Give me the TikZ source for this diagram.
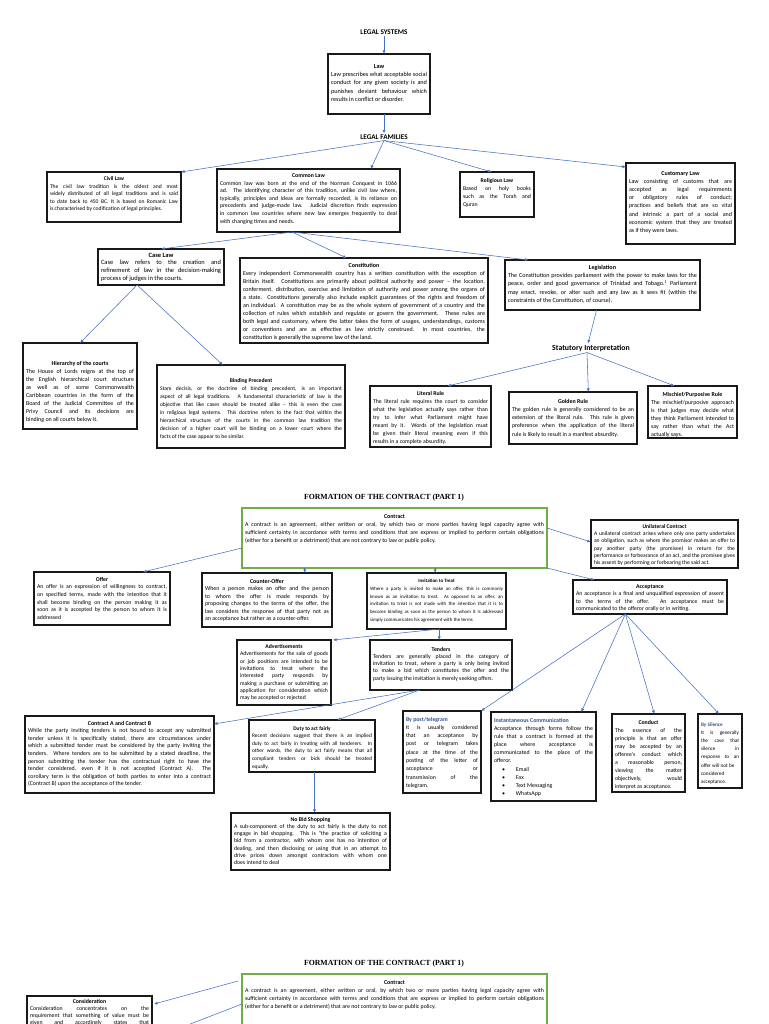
\documentclass[tikz,border=0pt]{standalone}
\usepackage{fontspec}
\setmainfont{Carlito}
\newfontfamily\ttlserif{Liberation Serif}
\usetikzlibrary{arrows.meta,calc}
\definecolor{abl}{RGB}{68,114,196}
\definecolor{gbox}{RGB}{112,173,71}
\definecolor{tbl}{RGB}{47,84,150}
\newcommand\Tl[1]{\hbox to\hsize{\hss\bfseries #1\hss}}
\newcommand\Bl[1]{\hbox{\color{tbl}\bfseries #1}}
\newcommand\Jl[1]{\hbox to\hsize{#1}}
\newcommand\El[1]{\hbox{#1}}
\newcommand\Bx[9]{\node[bx,anchor=north west] (#1) at (#2,#3) {\vbox to #5pt{\hsize=\dimexpr#4pt-6pt\relax\fontsize{#6}{#7}\selectfont\hbox{}\vskip\dimexpr#8pt-#7pt\relax#9\vfil}};}
\tikzset{
  bx/.style={draw=black!90, line width=1.1pt, fill=white, inner xsep=3pt, inner ysep=0pt, outer sep=0pt},
  ar/.style={draw=abl, line width=0.55pt, -{Latex[length=3.6pt,width=3pt]}},
  hd/.style={font=\fontsize{7.2}{8}\selectfont\bfseries, inner sep=1pt},
  fhd/.style={font=\ttlserif\fontsize{7.8}{9}\selectfont\bfseries, inner sep=1pt}
}
\begin{document}
\begin{tikzpicture}[x=1pt,y=-1pt]
\useasboundingbox (0,0) rectangle (768,1024);
\clip (0,0) rectangle (768,1024);
\fill[white] (0,0) rectangle (768,1024);

% ---------------- LEGAL SYSTEMS ----------------
\node[hd] (ls) at (384,32) {LEGAL SYSTEMS};
\Bx{law}{328}{54}{102}{60}{6.2}{8.2}{14.5}{\Tl{Law}\Jl{Law prescribes what acceptable social}\Jl{conduct for any given society is and}\Jl{punishes deviant behaviour which}\El{results in conflict or disorder.}}
\node[hd] (lf) at (384,137) {LEGAL FAMILIES};

\Bx{civil}{47}{172}{134}{50}{5.6}{7.4}{9}{\Tl{Civil Law}\Jl{The civil law tradition is the oldest and most}\Jl{widely distributed of all legal traditions and is said}\Jl{to date back to 450 BC. It is based on Romanic Law}\El{is characterised by codification of legal principles.}}
\Bx{common}{217}{169}{183}{63}{5.8}{7.5}{9}{\Tl{Common Law}\Jl{Common law was born at the end of the Norman Conquest in 1066}\Jl{ad. The identifying character of this tradition, unlike civil law where,}\Jl{typically, principles and ideas are formally recorded, is its reliance on}\Jl{precedents and judge-made law. Judicial discretion finds expression}\Jl{in common law countries where new law emerges frequently to deal}\El{with changing times and needs.}}
\Bx{relig}{460}{172}{74}{45}{5.8}{8}{11}{\Tl{Religious Law}\Jl{Based on holy books}\Jl{such as the Torah and}\El{Quran}}
\Bx{custom}{626}{163}{109}{81}{6.0}{8.2}{12}{\Tl{Customary Law}\Jl{Law consisting of customs that are}\Jl{accepted as legal requirements}\Jl{or obligatory rules of conduct;}\Jl{practices and beliefs that are so vital}\Jl{and intrinsic a part of a social and}\Jl{economic system that they are treated}\El{as if they were laws.}}

\Bx{caselaw}{98}{249}{126}{36}{6.5}{7.8}{8}{\Tl{Case Law}\Jl{Case law refers to the creation and}\Jl{refinement of law in the decision-making}\El{process of judges in the courts.}}
\Bx{const}{240}{258}{248}{85}{6.0}{8}{9}{\Tl{Constitution}\Jl{Every independent Commonwealth country has a written constitution with the exception of}\Jl{Britain itself. Constitutions are primarily about political authority and power -- the location,}\Jl{conferment, distribution, exercise and limitation of authority and power among the organs of}\Jl{a state.\ \ Constitutions generally also include explicit guarantees of the rights and freedom of}\Jl{an individual.\ \ A constitution may be as the whole system of government of a country and the}\Jl{collection of rules which establish and regulate or govern the government. These rules are}\Jl{both legal and customary, where the latter takes the form of usages, understandings, customs}\Jl{or conventions and are as effective as law strictly construed.\ \ In most countries, the}\El{constitution is generally the supreme law of the land.}}
\Bx{legis}{505}{260}{195}{50}{6.1}{8.4}{9}{\Tl{Legislation}\Jl{The Constitution provides parliament with the power to make laws for the}\Jl{peace, order and good governance of Trinidad and Tobago.\textsuperscript{1} Parliament}\Jl{may enact, revoke, or alter such and any law as it sees fit (within the}\El{constraints of the Constitution, of course).}}

\Bx{hier}{23}{343}{114}{86}{6.0}{8}{22}{\Tl{Hierarchy of the courts}\Jl{The House of Lords reigns at the top of}\Jl{the English hierarchical court structure}\Jl{as well as of some Commonwealth}\Jl{Caribbean countries in the form of the}\Jl{Board of the Judicial Committee of the}\Jl{Privy Council and its decisions are}\El{binding on all courts below it.}}
\Bx{bind}{157}{365}{188}{83}{5.6}{8}{17}{\Tl{Binding Precedent}\Jl{Stare decisis, or the doctrine of binding precedent, is an important}\Jl{aspect of all legal traditions. A fundamental characteristic of law is the}\Jl{objective that like cases should be treated alike -- this is even the case}\Jl{in religious legal systems. This doctrine refers to the fact that within the}\Jl{hierarchical structure of the courts in the common law tradition the}\Jl{decision of a higher court will be binding on a lower court where the}\El{facts of the case appear to be similar.}}

\node[font=\fontsize{7.8}{9}\selectfont\bfseries, inner sep=1pt] (stat) at (591,348) {Statutory Interpretation};
\Bx{lit}{370}{386}{121}{61}{5.8}{8.1}{9}{\Tl{Literal Rule}\Jl{The literal rule requires the court to consider}\Jl{what the legislation actually says rather than}\Jl{try to infer what Parliament might have}\Jl{meant by it.\ \ Words of the legislation must}\Jl{be given their literal meaning even if this}\El{results in a complete absurdity.}}
\Bx{gold}{509}{392}{128}{52}{5.9}{8.3}{11}{\Tl{Golden Rule}\Jl{The golden rule is generally considered to be an}\Jl{extension of the literal rule. This rule is given}\Jl{preference when the application of the literal}\El{rule is likely to result in a manifest absurdity.}}
\Bx{misch}{648}{386}{89}{52}{5.9}{8}{10}{\Tl{Mischief/Purposive Rule}\Jl{The mischief/purposive approach}\Jl{is that judges may decide what}\Jl{they think Parliament intended to}\Jl{say rather than what the Act}\El{actually says.}}

% connectors section 1
\draw[ar] (ls.south) -- (ls.south |- law.north);
\draw[ar] (lf.north |- law.south) -- (lf.north);
\coordinate (lfh) at (lf.south);
\draw[ar] (lfh) -- (civil.north east);
\draw[ar] (lfh) -- ($(common.north west)!0.84!(common.north east)$);
\draw[ar] (lfh) -- ($(relig.north west)!0.43!(relig.north east)$);
\draw[ar] (lfh) -- ($(custom.north west)+(0,4)$);
\coordinate (cmh) at ($(common.south west)!0.41!(common.south east)$);
\draw[ar] (cmh) -- (caselaw.north);
\draw[ar] (cmh) -- ($(const.north west)!0.43!(const.north east)$);
\draw[ar] (cmh) -- ($(legis.north west)!0.12!(legis.north east)$);
\coordinate (clh) at ($(caselaw.south west)!0.31!(caselaw.south east)$);
\draw[ar] (clh) -- (hier.north);
\draw[ar] (clh) -- ($(bind.north west)!0.35!(bind.north east)$);
\draw[ar] ($(legis.south west)!0.47!(legis.south east)$) -- ($(stat.north)+(-3,0)$);
\coordinate (sth) at ($(stat.south)+(-4,0)$);
\draw[ar] (sth) -- ($(lit.north west)!0.64!(lit.north east)$);
\draw[ar] (sth) -- ($(gold.north west)!0.62!(gold.north east)$);
\draw[ar] (sth) -- ($(misch.north west)!0.3!(misch.north east)$);

% ---------------- FORMATION (PART 1) ----------------
\node[fhd] (f1) at (384,498) {FORMATION OF THE CONTRACT (PART 1)};
\begin{scope}[bx/.append style={draw=gbox}]
\Bx{contract}{242}{508}{305}{60}{5.9}{8}{10}{\Tl{Contract}\Jl{A contract is an agreement, either written or oral, by which two or more parties having legal capacity agree with}\Jl{sufficient certainty in accordance with terms and conditions that are express or implied to perform certain obligations}\El{(either for a benefit or a detriment) that are not contrary to law or public policy.}}
\end{scope}
\Bx{unil}{591}{520}{147}{48}{5.6}{7.2}{8.5}{\Tl{Unilateral Contract}\Jl{A unilateral contract arises where only one party undertakes}\Jl{an obligation, such as where the promisor makes an offer to}\Jl{pay another party (the promisee) in return for the}\Jl{performance or forbearance of an act, and the promisee gives}\El{his assent by performing or forbearing the said act.}}
\Bx{offer}{34}{572}{136}{53}{5.8}{7.7}{9}{\Tl{Offer}\Jl{An offer is an expression of willingness to contract,}\Jl{on specified terms, made with the intention that it}\Jl{shall become binding on the person making it as}\Jl{soon as it is accepted by the person to whom it is}\El{addressed}}
\Bx{counter}{202}{573}{130}{54}{5.9}{7.5}{10}{\Tl{Counter-Offer}\Jl{When a person makes an offer and the person}\Jl{to whom the offer is made responds by}\Jl{proposing changes to the terms of the offer, the}\Jl{law considers the response of that party not as}\El{an acceptance but rather as a counter-offer.}}
\Bx{invit}{367}{573}{139}{56}{4.9}{7.8}{9.5}{\Tl{Invitation to Treat}\Jl{Where a party is invited to make an offer, this is commonly}\Jl{known as an invitation to treat. As opposed to an offer, an}\Jl{invitation to treat is not made with the intention that it is to}\Jl{become binding as soon as the person to whom it is addressed}\El{simply communicates his agreement with the terms}}
\Bx{accept}{573}{580}{154}{34}{5.8}{7.4}{8.5}{\Tl{Acceptance}\Jl{An acceptance is a final and unqualified expression of assent}\Jl{to the terms of the offer. An acceptance must be}\El{communicated to the offeror orally or in writing.}}

\Bx{ads}{237}{640}{94}{65}{5.7}{7.3}{8.5}{\Tl{Advertisements}\Jl{Advertisements for the sale of goods}\Jl{or job positions are intended to be}\Jl{invitations to treat where the}\Jl{interested party responds by}\Jl{making a purchase or submitting an}\Jl{application for consideration which}\El{may be accepted or rejected}}
\Bx{tend}{370}{640}{142}{50}{5.8}{7.3}{11}{\Tl{Tenders}\Jl{Tenders are generally placed in the category of}\Jl{invitation to treat, where a party is only being invited}\Jl{to make a bid which constitutes the offer and the}\El{party issuing the invitation is merely seeking offers.}}

\Bx{cab}{25}{716}{189}{77}{5.9}{7.6}{9}{\Tl{Contract A and Contract B}\Jl{While the party inviting tenders is not bound to accept any submitted}\Jl{tender unless it is specifically stated, there are circumstances under}\Jl{which a submitted tender must be considered by the party inviting the}\Jl{tenders. Where tenders are to be submitted by a stated deadline, the}\Jl{person submitting the tender has the contractual right to have the}\Jl{tender considered, even if it is not accepted (Contract A).\ \ The}\Jl{corollary term is the obligation of both parties to enter into a contract}\El{(Contract B) upon the acceptance of the tender.}}
\Bx{duty}{249}{720}{126}{52}{5.4}{7.6}{10}{\Tl{Duty to act fairly}\Jl{Recent decisions suggest that there is an implied}\Jl{duty to act fairly in treating with all tenderers. In}\Jl{other words, the duty to act fairly means that all}\Jl{compliant tenders or bids should be treated}\El{equally.}}
\Bx{post}{403}{711}{78}{82}{5.8}{8.3}{10}{\Bl{By post/telegram}\Jl{It is usually considered}\Jl{that an acceptance by}\Jl{post or telegram takes}\Jl{place at the time of the}\Jl{posting of the letter of}\Jl{acceptance or}\Jl{transmission of the}\El{telegram.}}
\Bx{inst}{491}{712}{105}{89}{5.9}{8}{10}{\Bl{Instantaneous Communication}\Jl{Acceptance through forms follow the}\Jl{rule that a contract is formed at the}\Jl{place where acceptance is}\Jl{communicated to the place of the}\El{offeror.}\vskip1.5pt\El{\hspace*{8pt}\textbullet\hspace*{11pt}Email}\El{\hspace*{8pt}\textbullet\hspace*{11pt}Fax}\El{\hspace*{8pt}\textbullet\hspace*{11pt}Text Messaging}\El{\hspace*{8pt}\textbullet\hspace*{11pt}WhatsApp}}
\Bx{cond}{612}{714}{73}{78}{5.8}{8}{10}{\Tl{Conduct}\Jl{The essence of the}\Jl{principle is that an offer}\Jl{may be accepted by an}\Jl{offeree's conduct which}\Jl{a reasonable person,}\Jl{viewing the matter}\Jl{objectively, would}\El{interpret as acceptance.}}
\Bx{sil}{698}{714}{44}{74}{5.2}{8.2}{12}{\Bl{By Silence}\Jl{It is generally}\Jl{the case that}\Jl{silence in}\Jl{response to an}\El{offer will not be}\El{considered}\El{acceptance.}}
\Bx{nobid}{231}{813}{159}{57}{5.8}{7.3}{8}{\Tl{No Bid Shopping}\Jl{A sub-component of the duty to act fairly is the duty to not}\Jl{engage in bid shopping. This is ``the practice of soliciting a}\Jl{bid from a contractor, with whom one has no intention of}\Jl{dealing, and then disclosing or using that in an attempt to}\Jl{drive prices down amongst contractors with whom one}\El{does intend to deal}}

% connectors section 2
\draw[ar] ($(contract.north east)+(0,20)$) -- ($(unil.north west)+(0,22)$);
\draw[ar] (contract.south east) -- ($(accept.north west)!0.14!(accept.north east)$);
\draw[ar] ($(contract.north west)+(0,40)$) -- ($(offer.north west)!0.8!(offer.north east)$);
\coordinate (cA) at ($(counter.north west)!0.79!(counter.north east)$);
\draw[ar] (cA |- contract.south) -- (cA);
\coordinate (iA) at ($(invit.north west)!0.49!(invit.north east)$);
\draw[ar] (iA |- contract.south) -- (iA);
\coordinate (ivh) at ($(invit.south west)!0.52!(invit.south east)$);
\draw[ar] (ivh) -- ($(ads.north east)+(2,0)$);
\draw[ar] (ivh) -- (ivh |- tend.north);
\coordinate (tdh) at ($(tend.south west)!0.35!(tend.south east)$);
\draw[ar] (tdh) -- ($(cab.north east)+(0,8)$);
\draw[ar] (tdh) -- ($(duty.north west)!0.7!(duty.north east)$);
\coordinate (ach) at ($(accept.south west)!0.34!(accept.south east)$);
\draw[ar] (ach) -- (post.north east);
\draw[ar] (ach) -- ($(inst.north west)!0.86!(inst.north east)$);
\draw[ar] (ach) -- ($(cond.north west)!0.58!(cond.north east)$);
\draw[ar] (ach) -- ($(sil.north west)!0.48!(sil.north east)$);
\coordinate (dn) at ($(duty.south west)!0.52!(duty.south east)$);
\draw[ar] (dn) -- (dn |- nobid.north);

% ---------------- FORMATION (PART 1), repeated ----------------
\node[fhd] (f2) at (384,964) {FORMATION OF THE CONTRACT (PART 1)};
\begin{scope}[bx/.append style={draw=gbox}]
\Bx{contractb}{242}{974}{305}{60}{5.9}{8}{10}{\Tl{Contract}\Jl{A contract is an agreement, either written or oral, by which two or more parties having legal capacity agree with}\Jl{sufficient certainty in accordance with terms and conditions that are express or implied to perform certain obligations}\El{(either for a benefit or a detriment) that are not contrary to law or public policy.}}
\end{scope}
\Bx{consid}{27}{996}{125}{60}{5.8}{7}{7}{\Tl{Consideration}\Jl{Consideration concentrates on the}\Jl{requirement that something of value must be}\Jl{given and accordingly states that}}
\coordinate (offc) at (123,1050);
\draw[ar] ($(contractb.north west)+(-4,7)$) -- ($(consid.north east)+(2,8)$);
\draw[ar] ($(contractb.north west)+(0,30)$) -- (offc);
\end{tikzpicture}
\end{document}
